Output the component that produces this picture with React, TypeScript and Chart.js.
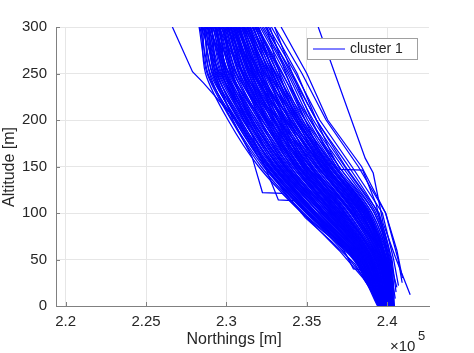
import React, { useEffect, useRef } from "react";
import { Chart, registerables } from "chart.js";

Chart.register(...registerables);

// Altitude levels [m] shared by the regular tracks
const ALTITUDE_LEVELS = [300, 250, 200, 150, 100, 50, 0];

// Northings (x 10^5 m) of each regular track at the altitude levels above
const REGULAR_TRACKS: number[][] = [
  [2.2830, 2.2880, 2.3030, 2.3215, 2.3480, 2.3795, 2.3945],
  [2.2850, 2.2885, 2.3050, 2.3240, 2.3500, 2.3805, 2.3950],
  [2.2860, 2.2910, 2.3060, 2.3255, 2.3515, 2.3810, 2.3955],
  [2.2870, 2.2925, 2.3075, 2.3265, 2.3520, 2.3815, 2.3960],
  [2.2885, 2.2940, 2.3090, 2.3270, 2.3535, 2.3825, 2.3960],
  [2.2895, 2.2950, 2.3110, 2.3295, 2.3545, 2.3830, 2.3965],
  [2.2905, 2.2970, 2.3120, 2.3310, 2.3560, 2.3835, 2.3960],
  [2.2920, 2.2980, 2.3135, 2.3320, 2.3575, 2.3840, 2.3965],
  [2.2930, 2.3000, 2.3150, 2.3335, 2.3590, 2.3850, 2.3970],
  [2.2940, 2.3010, 2.3160, 2.3345, 2.3595, 2.3855, 2.3965],
  [2.2950, 2.3025, 2.3175, 2.3360, 2.3610, 2.3860, 2.3975],
  [2.2955, 2.3035, 2.3185, 2.3370, 2.3620, 2.3865, 2.3970],
  [2.2970, 2.3050, 2.3200, 2.3385, 2.3630, 2.3870, 2.3980],
  [2.2975, 2.3060, 2.3210, 2.3395, 2.3640, 2.3875, 2.3975],
  [2.2990, 2.3075, 2.3225, 2.3410, 2.3655, 2.3880, 2.3980],
  [2.2995, 2.3085, 2.3235, 2.3420, 2.3665, 2.3885, 2.3985],
  [2.3005, 2.3095, 2.3245, 2.3430, 2.3670, 2.3890, 2.3980],
  [2.3010, 2.3105, 2.3255, 2.3440, 2.3680, 2.3895, 2.3985],
  [2.3020, 2.3115, 2.3260, 2.3450, 2.3690, 2.3900, 2.3990],
  [2.3025, 2.3125, 2.3270, 2.3460, 2.3700, 2.3905, 2.3990],
  [2.3035, 2.3135, 2.3285, 2.3470, 2.3705, 2.3910, 2.3990],
  [2.3040, 2.3145, 2.3295, 2.3480, 2.3715, 2.3910, 2.3995],
  [2.3050, 2.3155, 2.3300, 2.3485, 2.3725, 2.3915, 2.3990],
  [2.3055, 2.3165, 2.3315, 2.3495, 2.3735, 2.3920, 2.3995],
  [2.3065, 2.3175, 2.3320, 2.3505, 2.3740, 2.3925, 2.4000],
  [2.3070, 2.3185, 2.3330, 2.3515, 2.3750, 2.3930, 2.3995],
  [2.3080, 2.3195, 2.3345, 2.3525, 2.3760, 2.3935, 2.4000],
  [2.3090, 2.3210, 2.3355, 2.3540, 2.3775, 2.3940, 2.4005],
  [2.3105, 2.3225, 2.3370, 2.3555, 2.3785, 2.3945, 2.4005],
  [2.3115, 2.3245, 2.3390, 2.3570, 2.3800, 2.3950, 2.4010],
  [2.3125, 2.3260, 2.3400, 2.3585, 2.3815, 2.3960, 2.4010],
  [2.3140, 2.3275, 2.3415, 2.3600, 2.3830, 2.3965, 2.4015],
  [2.3150, 2.3290, 2.3430, 2.3615, 2.3840, 2.3970, 2.4015],
  [2.3160, 2.3305, 2.3450, 2.3630, 2.3855, 2.3980, 2.4020],
  [2.3175, 2.3320, 2.3460, 2.3645, 2.3865, 2.3985, 2.4020],
  [2.3185, 2.3335, 2.3475, 2.3660, 2.3880, 2.3990, 2.4025],
  [2.3195, 2.3350, 2.3490, 2.3675, 2.3895, 2.3995, 2.4025],
  [2.3210, 2.3365, 2.3505, 2.3685, 2.3905, 2.4005, 2.4030],
  [2.3220, 2.3380, 2.3520, 2.3700, 2.3920, 2.4010, 2.4030],
  [2.2840, 2.2960, 2.3150, 2.3370, 2.3650, 2.3900, 2.4000],
  [2.2880, 2.3020, 2.3220, 2.3440, 2.3720, 2.3940, 2.4020],
  [2.2910, 2.3060, 2.3260, 2.3500, 2.3780, 2.3960, 2.4015],
  [2.2965, 2.3110, 2.3320, 2.3560, 2.3820, 2.3985, 2.4025],
  [2.3000, 2.3160, 2.3370, 2.3600, 2.3850, 2.3995, 2.4030],
  [2.3100, 2.3200, 2.3300, 2.3450, 2.3660, 2.3880, 2.3970],
  [2.3130, 2.3230, 2.3340, 2.3480, 2.3690, 2.3890, 2.3975],
  [2.3170, 2.3260, 2.3360, 2.3500, 2.3710, 2.3900, 2.3985],
  [2.3050, 2.3140, 2.3250, 2.3400, 2.3610, 2.3860, 2.3965],
  [2.3200, 2.3290, 2.3390, 2.3530, 2.3740, 2.3930, 2.3995],
  [2.2930, 2.2990, 2.3110, 2.3290, 2.3540, 2.3830, 2.3960],
  [2.2990, 2.3040, 2.3150, 2.3320, 2.3560, 2.3850, 2.3970],
  [2.3060, 2.3200, 2.3380, 2.3590, 2.3830, 2.3985, 2.4020],
  [2.3020, 2.3190, 2.3400, 2.3620, 2.3860, 2.4000, 2.4035],
  [2.2950, 2.3100, 2.3290, 2.3520, 2.3790, 2.3975, 2.4010],
  [2.3110, 2.3260, 2.3440, 2.3650, 2.3870, 2.3995, 2.4025],
  [2.2835, 2.2900, 2.3065, 2.3260, 2.3510, 2.3800, 2.3950],
  [2.2855, 2.2915, 2.3085, 2.3285, 2.3540, 2.3820, 2.3955],
  [2.2865, 2.2935, 2.3100, 2.3300, 2.3555, 2.3830, 2.3965],
  [2.2880, 2.2955, 2.3125, 2.3325, 2.3575, 2.3840, 2.3970],
  [2.2890, 2.2965, 2.3140, 2.3345, 2.3595, 2.3850, 2.3965],
  [2.2900, 2.2985, 2.3160, 2.3365, 2.3615, 2.3860, 2.3975],
  [2.2915, 2.3000, 2.3175, 2.3380, 2.3630, 2.3870, 2.3980],
  [2.2925, 2.3015, 2.3190, 2.3395, 2.3645, 2.3880, 2.3985],
  [2.2945, 2.3030, 2.3205, 2.3410, 2.3660, 2.3890, 2.3980],
  [2.2960, 2.3045, 2.3220, 2.3425, 2.3675, 2.3895, 2.3990],
  [2.2980, 2.3065, 2.3240, 2.3445, 2.3690, 2.3905, 2.3985],
  [2.3000, 2.3080, 2.3250, 2.3455, 2.3700, 2.3910, 2.3995],
  [2.3015, 2.3100, 2.3270, 2.3475, 2.3715, 2.3915, 2.3990],
  [2.3030, 2.3120, 2.3290, 2.3490, 2.3730, 2.3925, 2.4000],
  [2.3045, 2.3135, 2.3305, 2.3500, 2.3740, 2.3930, 2.3995],
  [2.3060, 2.3150, 2.3320, 2.3520, 2.3755, 2.3940, 2.4005],
  [2.3075, 2.3170, 2.3335, 2.3535, 2.3770, 2.3945, 2.4000],
  [2.3085, 2.3180, 2.3350, 2.3550, 2.3780, 2.3950, 2.4010],
  [2.3095, 2.3195, 2.3365, 2.3565, 2.3795, 2.3955, 2.4005],
  [2.3110, 2.3215, 2.3380, 2.3580, 2.3805, 2.3960, 2.4015],
  [2.3120, 2.3235, 2.3395, 2.3595, 2.3820, 2.3965, 2.4010],
  [2.3135, 2.3250, 2.3410, 2.3610, 2.3835, 2.3975, 2.4020],
  [2.3145, 2.3270, 2.3425, 2.3625, 2.3850, 2.3980, 2.4015],
  [2.3165, 2.3285, 2.3440, 2.3640, 2.3860, 2.3985, 2.4025],
  [2.3180, 2.3300, 2.3455, 2.3655, 2.3875, 2.3990, 2.4020],
  [2.3200, 2.3320, 2.3470, 2.3670, 2.3885, 2.3995, 2.4030],
  [2.2845, 2.2870, 2.3010, 2.3200, 2.3470, 2.3790, 2.3940],
  [2.2865, 2.2895, 2.3035, 2.3230, 2.3495, 2.3800, 2.3950],
  [2.2890, 2.2920, 2.3055, 2.3245, 2.3505, 2.3810, 2.3955],
  [2.2910, 2.2945, 2.3080, 2.3275, 2.3530, 2.3820, 2.3960],
  [2.2940, 2.2975, 2.3105, 2.3300, 2.3550, 2.3835, 2.3965],
  [2.2960, 2.3000, 2.3130, 2.3330, 2.3580, 2.3845, 2.3970],
  [2.2985, 2.3030, 2.3165, 2.3355, 2.3605, 2.3860, 2.3975],
  [2.3040, 2.3170, 2.3360, 2.3570, 2.3810, 2.3970, 2.4020],
  [2.3070, 2.3210, 2.3400, 2.3610, 2.3840, 2.3985, 2.4025],
  [2.3100, 2.3240, 2.3430, 2.3640, 2.3870, 2.3995, 2.4030],
  [2.3130, 2.3280, 2.3460, 2.3670, 2.3890, 2.4005, 2.4035],
  [2.3160, 2.3310, 2.3490, 2.3700, 2.3905, 2.4010, 2.4035],
  [2.3190, 2.3345, 2.3520, 2.3720, 2.3920, 2.4015, 2.4040],
  [2.3230, 2.3390, 2.3540, 2.3735, 2.3930, 2.4020, 2.4040],
  [2.3240, 2.3410, 2.3560, 2.3760, 2.3940, 2.4025, 2.4045],
  [2.3250, 2.3330, 2.3440, 2.3590, 2.3800, 2.3955, 2.4010],
  [2.3270, 2.3370, 2.3490, 2.3630, 2.3830, 2.3970, 2.4015],
  [2.3300, 2.3410, 2.3530, 2.3680, 2.3880, 2.3990, 2.4025],
  [2.3150, 2.3220, 2.3320, 2.3470, 2.3680, 2.3895, 2.3980],
  [2.3080, 2.3160, 2.3280, 2.3430, 2.3640, 2.3875, 2.3975],
  [2.3030, 2.3100, 2.3210, 2.3370, 2.3600, 2.3860, 2.3970],
];

// Irregular tracks: [northing x 10^5, altitude] pairs
const IRREGULAR_TRACKS: [number, number][][] = [
  [[2.2664, 300], [2.2789, 252], [2.2857, 240], [2.2963, 219], [2.3087, 195], [2.3200, 160], [2.3350, 125], [2.3490, 95], [2.3650, 70], [2.3800, 45], [2.3940, 5]],
  [[2.3571, 300], [2.3863, 159], [2.3913, 143], [2.3975, 89], [2.4050, 53], [2.4143, 12]],
  [[2.2900, 300], [2.2990, 250], [2.3120, 200], [2.3240, 150], [2.3323, 114], [2.3441, 113], [2.3560, 90], [2.3720, 60], [2.3880, 25], [2.3960, 0]],
  [[2.3280, 300], [2.3440, 250], [2.3560, 200], [2.3650, 165], [2.3706, 147], [2.3848, 146], [2.3930, 110], [2.4000, 60], [2.4060, 20]],
  [[2.2875, 300], [2.2930, 250], [2.3040, 200], [2.3160, 160], [2.3224, 122], [2.3348, 121], [2.3500, 95], [2.3700, 60], [2.3850, 30], [2.3950, 5]],
  [[2.2935, 300], [2.3000, 250], [2.3130, 200], [2.3300, 150], [2.3540, 100], [2.3730, 60], [2.3790, 40], [2.3850, 39], [2.3940, 10], [2.3960, 0]],
  [[2.3010, 300], [2.3100, 250], [2.3240, 200], [2.3430, 150], [2.3660, 100], [2.3830, 60], [2.3880, 30], [2.3960, 29], [2.4000, 0]],
  [[2.3180, 300], [2.3300, 250], [2.3440, 200], [2.3620, 150], [2.3850, 100], [2.3960, 55], [2.3990, 20], [2.4040, 19], [2.4050, 8]],
  [[2.3260, 300], [2.3430, 250], [2.3580, 200], [2.3780, 150], [2.3970, 100], [2.4040, 50], [2.4070, 22]],
  [[2.3300, 300], [2.3470, 250], [2.3620, 200], [2.3820, 150], [2.3990, 100], [2.4060, 60], [2.4095, 30]],
  [[2.3340, 300], [2.3500, 250], [2.3630, 200], [2.3840, 150], [2.3990, 100], [2.4068, 50], [2.4093, 25]],
  [[2.3250, 300], [2.3400, 250], [2.3560, 200], [2.3740, 150], [2.3950, 100], [2.4030, 50], [2.4055, 15]],
];

const X_TICKS = [2.2, 2.25, 2.3, 2.35, 2.4];
const Y_TICKS = [0, 50, 100, 150, 200, 250, 300];
const LEGEND_LABEL = "cluster 1";
const X_TITLE = "Northings [m]";
const Y_TITLE = "Altitude [m]";

const LINE_COLOR = "rgb(0,0,255)";
const TEXT_COLOR = "#262626";
const AXIS_COLOR = "#808080";
const GRID_COLOR = "#e6e6e6";
const FONT = "'Liberation Sans', Arial, Helvetica, sans-serif";

export default function App() {
  const canvasRef = useRef<HTMLCanvasElement | null>(null);

  useEffect(() => {
    if (!canvasRef.current) return;

    const datasets: any[] = [];
    REGULAR_TRACKS.forEach((track) => {
      datasets.push({
        data: track.map((x, i) => ({ x, y: ALTITUDE_LEVELS[i] })),
        tension: 0.3,
      });
    });
    IRREGULAR_TRACKS.forEach((track) => {
      datasets.push({ data: track.map(([x, y]) => ({ x, y })), tension: 0 });
    });
    datasets.forEach((d) => {
      d.borderColor = LINE_COLOR;
      d.backgroundColor = LINE_COLOR;
      d.borderWidth = 1.25;
      d.pointRadius = 0;
      d.pointHoverRadius = 0;
      d.fill = false;
      d.showLine = true;
    });

    const decor = {
      id: "matlabDecor",
      afterDraw(chart: any) {
        const ctx = chart.ctx;
        const area = chart.chartArea;
        const xs = chart.scales.x;
        const ys = chart.scales.y;
        ctx.save();
        // inward tick marks
        ctx.strokeStyle = AXIS_COLOR;
        ctx.lineWidth = 1;
        ctx.beginPath();
        X_TICKS.forEach((v) => {
          const px = Math.round(xs.getPixelForValue(v)) + 0.5;
          ctx.moveTo(px, area.bottom);
          ctx.lineTo(px, area.bottom - 4);
        });
        Y_TICKS.forEach((v) => {
          const py = Math.round(ys.getPixelForValue(v)) + 0.5;
          ctx.moveTo(area.left, py);
          ctx.lineTo(area.left + 4, py);
        });
        ctx.stroke();

        // legend
        const lx = 307.5, ly = 38.5, lw = 110, lh = 21;
        ctx.fillStyle = "#ffffff";
        ctx.fillRect(lx, ly, lw, lh);
        ctx.strokeStyle = "#a0a0a0";
        ctx.strokeRect(lx, ly, lw, lh);
        ctx.strokeStyle = LINE_COLOR;
        ctx.beginPath();
        ctx.moveTo(313, 49);
        ctx.lineTo(345, 49);
        ctx.stroke();
        ctx.fillStyle = TEXT_COLOR;
        ctx.font = `14px ${FONT}`;
        ctx.textAlign = "left";
        ctx.textBaseline = "middle";
        ctx.fillText(LEGEND_LABEL, 350, 49);

        // axis titles
        ctx.font = `16px ${FONT}`;
        ctx.textAlign = "center";
        ctx.textBaseline = "middle";
        ctx.fillText(X_TITLE, 234, 340);
        ctx.save();
        ctx.translate(10, 167);
        ctx.rotate(-Math.PI / 2);
        ctx.fillText(Y_TITLE, 0, 0);
        ctx.restore();

        // exponent
        ctx.textAlign = "left";
        ctx.textBaseline = "alphabetic";
        ctx.font = `15px ${FONT}`;
        ctx.fillText("\u00d710", 390, 351);
        ctx.font = `13px ${FONT}`;
        ctx.fillText("5", 418, 340);
        ctx.restore();
      },
    };

    const chart = new Chart(canvasRef.current, {
      type: "line",
      data: { datasets },
      plugins: [decor],
      options: {
        animation: false,
        responsive: false,
        layout: { padding: { top: 27, right: 45, left: 0, bottom: 0 } },
        plugins: {
          legend: { display: false },
          tooltip: { enabled: false },
          title: { display: false },
        },
        events: [],
        scales: {
          x: {
            type: "linear",
            min: 2.194,
            max: 2.426,
            afterFit: (s: any) => {
              s.height = 47;
            },
            afterBuildTicks: (s: any) => {
              s.ticks = X_TICKS.map((v) => ({ value: v }));
            },
            ticks: {
              includeBounds: false,
              stepSize: 0.05,
              padding: 7,
              color: TEXT_COLOR,
              font: { family: FONT, size: 15 },
              maxRotation: 0,
              autoSkip: false,
              callback: (v: any) => String(Number(Number(v).toFixed(2))),
            },
            grid: { color: GRID_COLOR, drawTicks: false, lineWidth: 1 },
            border: { display: true, color: AXIS_COLOR, width: 1 },
          },
          y: {
            type: "linear",
            min: 0,
            max: 300,
            afterFit: (s: any) => {
              s.width = 56;
            },
            afterBuildTicks: (s: any) => {
              s.ticks = Y_TICKS.map((v) => ({ value: v }));
            },
            ticks: {
              stepSize: 50,
              padding: 9,
              color: TEXT_COLOR,
              font: { family: FONT, size: 15 },
              autoSkip: false,
            },
            grid: { color: GRID_COLOR, drawTicks: false, lineWidth: 1 },
            border: { display: true, color: AXIS_COLOR, width: 1 },
          },
        },
      },
    });

    return () => chart.destroy();
  }, []);

  return (
    <div style={{ position: "absolute", left: 0, top: 0, width: 474, height: 353, background: "#fff" }}>
      <canvas ref={canvasRef} width={474} height={353} style={{ display: "block" }} />
    </div>
  );
}
